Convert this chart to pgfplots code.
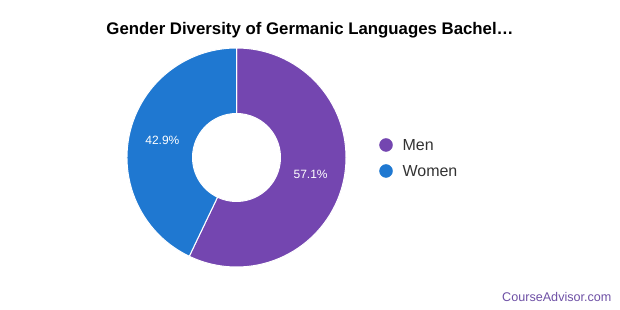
\documentclass[border=0pt]{standalone}
\usepackage{pgfplots}
\usepackage{pgfplotstable}
\pgfplotsset{compat=1.18}
\usetikzlibrary{calc}
\usepackage{fontspec}
\setmainfont{Liberation Sans}
\definecolor{menc}{RGB}{116,70,176}
\definecolor{womenc}{RGB}{31,120,209}
\definecolor{brand}{RGB}{110,80,165}
\pgfplotstableread{
label value
Men 57.1
Women 42.9
}\gendertable
\begin{document}
\begin{tikzpicture}
\pgfplotstablegetelem{0}{value}\of\gendertable \let\vmen\pgfplotsretval
\pgfplotstablegetelem{1}{value}\of\gendertable \let\vwomen\pgfplotsretval
\pgfmathsetmacro{\amen}{90-3.6*\vmen}
\pgfmathsetmacro{\awomen}{\amen-3.6*\vwomen}
\pgfmathsetmacro{\mmen}{(90+\amen)/2}
\pgfmathsetmacro{\mwomen}{(\amen+\awomen)/2}
\begin{axis}[
  scale only axis, width=620pt, height=310pt,
  xmin=0, xmax=620, ymin=0, ymax=310,
  hide axis, clip=false,
]
\path (axis cs:0,0) rectangle (axis cs:620,310);
% wedges
\fill[menc, draw=white, line width=1pt] (axis cs:236.5,152.5) ++(90:109.5) arc[start angle=90, end angle=\amen, radius=109.5]
  -- ($(axis cs:236.5,152.5)+(\amen:44)$) arc[start angle=\amen, end angle=90, radius=44] -- cycle;
\fill[womenc, draw=white, line width=1pt] (axis cs:236.5,152.5) ++(\amen:109.5) arc[start angle=\amen, end angle=\awomen, radius=109.5]
  -- ($(axis cs:236.5,152.5)+(\awomen:44)$) arc[start angle=\awomen, end angle=\amen, radius=44] -- cycle;
\node[white, font=\fontsize{12}{14}\selectfont] at ($(axis cs:236.5,152.5)+(\mmen:76)$) {\vmen\%};
\node[white, font=\fontsize{12}{14}\selectfont] at ($(axis cs:236.5,152.5)+(\mwomen:76)$) {\vwomen\%};
% legend
\addplot[only marks, mark=*, mark size=6.5pt, color=menc] coordinates {(386,165)};
\addplot[only marks, mark=*, mark size=6.5pt, color=womenc] coordinates {(386,139)};
\node[anchor=west, font=\fontsize{16}{18}\selectfont, text=black!80] at (axis cs:399,165) {Men};
\node[anchor=west, font=\fontsize{16}{18}\selectfont, text=black!80] at (axis cs:399,139) {Women};
% title
\node[font=\bfseries\fontsize{16.8}{20}\selectfont] at (axis cs:310,280) {Gender Diversity of Germanic Languages Bachel\ldots};
\node[anchor=east, text=brand, font=\fontsize{12.6}{15}\selectfont] at (axis cs:615,13) {CourseAdvisor.com};
\end{axis}
\end{tikzpicture}
\end{document}
